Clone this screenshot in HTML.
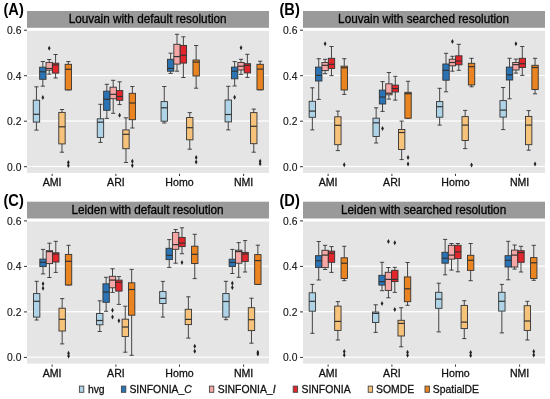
<!DOCTYPE html>
<html><head><meta charset="utf-8"><style>
html,body{margin:0;padding:0;background:#fff;}
svg{will-change:transform;}
svg{display:block;}
text{font-family:"Liberation Sans",sans-serif;fill:#111;stroke:#111;stroke-width:0.28px;}
.st{font-size:11.7px;text-anchor:middle;fill:#000;stroke:#000;}
.yl{font-size:10.3px;text-anchor:end;fill:#111;stroke-width:0.12px;}
.xl{font-size:10.4px;text-anchor:middle;}
.pl{font-size:15.4px;font-weight:bold;fill:#000;stroke:none;}
.lg{font-size:10.4px;}
.wk{stroke:#333333;stroke-width:0.9;fill:none;}
.bx{stroke:#333333;stroke-width:0.9;}
.md{stroke:#333333;stroke-width:1.2;}
</style></head><body>
<svg width="550" height="399" viewBox="0 0 550 399">
<rect width="550" height="399" fill="#fff"/>
<rect x="27" y="11" width="242" height="16.8" fill="#9a9a9a"/>
<text transform="translate(147.6,22.9) scale(1.005,1.07)" class="st">Louvain with default resolution</text>
<rect x="27" y="30.6" width="242" height="142.3" fill="#e5e5e5"/>
<rect x="27" y="165.9" width="242" height="1.2" fill="#ffffff"/>
<rect x="24" y="166.2" width="3" height="1" fill="#333"/>
<text x="21.4" y="170.7" class="yl">0.0</text>
<rect x="27" y="120.4" width="242" height="1.2" fill="#ffffff"/>
<rect x="24" y="120.7" width="3" height="1" fill="#333"/>
<text x="21.4" y="125.2" class="yl">0.2</text>
<rect x="27" y="74.9" width="242" height="1.2" fill="#ffffff"/>
<rect x="24" y="75.2" width="3" height="1" fill="#333"/>
<text x="21.4" y="79.7" class="yl">0.4</text>
<rect x="27" y="29.4" width="242" height="1.2" fill="#ffffff"/>
<rect x="24" y="29.7" width="3" height="1" fill="#333"/>
<text x="21.4" y="34.2" class="yl">0.6</text>
<rect x="51.6" y="173.8" width="1" height="2.2" fill="#333"/>
<text transform="translate(52.1,185.9) scale(1.02,1)" class="xl">AMI</text>
<rect x="115.4" y="173.8" width="1" height="2.2" fill="#333"/>
<text transform="translate(115.9,185.9) scale(1.02,1)" class="xl">ARI</text>
<rect x="179" y="173.8" width="1" height="2.2" fill="#333"/>
<text transform="translate(179.5,185.9) scale(1.02,1)" class="xl">Homo</text>
<rect x="243.1" y="173.8" width="1" height="2.2" fill="#333"/>
<text transform="translate(243.6,185.9) scale(1.02,1)" class="xl">NMI</text>
<text transform="translate(3.5,15) scale(0.95,1.02)" class="pl">(A)</text>
<path d="M36.45 86.8V100.2M36.45 122.1V130.1M34.35 86.8H38.55M34.35 130.1H38.55" class="wk"/>
<rect x="33.26" y="100.2" width="6.38" height="21.9" fill="#b0d4e7" class="bx"/>
<path d="M33.26 114.3H39.64" class="md"/>
<path d="M42.83 61.5V67.2M42.83 79.3V86.2M40.73 61.5H44.93M40.73 86.2H44.93" class="wk"/>
<rect x="39.64" y="67.2" width="6.38" height="12.1" fill="#2a74b5" class="bx"/>
<path d="M39.64 71.8H46.02" class="md"/>
<path d="M42.83 95.1L44.18 97.6L42.83 100.1L41.48 97.6Z" fill="#222"/>
<path d="M49.21 59.5V62.4M49.21 70.2V74.2M47.11 59.5H51.31M47.11 74.2H51.31" class="wk"/>
<rect x="46.02" y="62.4" width="6.38" height="7.8" fill="#f7a6a6" class="bx"/>
<path d="M46.02 68.5H52.4" class="md"/>
<path d="M49.21 45.7L50.56 48.2L49.21 50.7L47.86 48.2Z" fill="#222"/>
<path d="M55.59 54.5V63.2M55.59 73.1V78M53.49 54.5H57.69M53.49 78H57.69" class="wk"/>
<rect x="52.4" y="63.2" width="6.38" height="9.9" fill="#e3262b" class="bx"/>
<path d="M52.4 65H58.78" class="md"/>
<path d="M61.97 109.5V112.4M61.97 143.9V152.2M59.87 109.5H64.07M59.87 152.2H64.07" class="wk"/>
<rect x="58.78" y="112.4" width="6.38" height="31.5" fill="#f7c37b" class="bx"/>
<path d="M58.78 126.8H65.16" class="md"/>
<path d="M68.35 61.5V64.3M68.35 89.9V89.9M66.25 61.5H70.45M66.25 89.9H70.45" class="wk"/>
<rect x="65.16" y="64.3" width="6.38" height="25.6" fill="#ea8420" class="bx"/>
<path d="M65.16 69.3H71.54" class="md"/>
<path d="M68.35 160L69.7 162.5L68.35 165L67 162.5Z" fill="#222"/>
<path d="M68.35 163L69.7 165.5L68.35 168L67 165.5Z" fill="#222"/>
<path d="M100.45 104.3V118.8M100.45 137.4V142.4M98.35 104.3H102.55M98.35 142.4H102.55" class="wk"/>
<rect x="97.26" y="118.8" width="6.38" height="18.6" fill="#b0d4e7" class="bx"/>
<path d="M97.26 122.2H103.64" class="md"/>
<path d="M106.83 84.3V91.2M106.83 110.3V118.4M104.73 84.3H108.93M104.73 118.4H108.93" class="wk"/>
<rect x="103.64" y="91.2" width="6.38" height="19.1" fill="#2a74b5" class="bx"/>
<path d="M103.64 99.3H110.02" class="md"/>
<path d="M113.21 80.3V87.2M113.21 98.7V113.3M111.11 80.3H115.31M111.11 113.3H115.31" class="wk"/>
<rect x="110.02" y="87.2" width="6.38" height="11.5" fill="#f7a6a6" class="bx"/>
<path d="M110.02 94.3H116.4" class="md"/>
<path d="M119.59 81.8V90.6M119.59 100.3V104.6M117.49 81.8H121.69M117.49 104.6H121.69" class="wk"/>
<rect x="116.4" y="90.6" width="6.38" height="9.7" fill="#e3262b" class="bx"/>
<path d="M116.4 96.5H122.78" class="md"/>
<path d="M119.59 112.8L120.94 115.3L119.59 117.8L118.24 115.3Z" fill="#222"/>
<path d="M125.97 117.8V129.9M125.97 148.7V162.5M123.87 117.8H128.07M123.87 162.5H128.07" class="wk"/>
<rect x="122.78" y="129.9" width="6.38" height="18.8" fill="#f7c37b" class="bx"/>
<path d="M122.78 134.3H129.16" class="md"/>
<path d="M132.35 86.5V93.3M132.35 119.7V128M130.25 86.5H134.45M130.25 128H134.45" class="wk"/>
<rect x="129.16" y="93.3" width="6.38" height="26.4" fill="#ea8420" class="bx"/>
<path d="M129.16 103H135.54" class="md"/>
<path d="M132.35 158.7L133.7 161.2L132.35 163.7L131 161.2Z" fill="#222"/>
<path d="M132.35 163.1L133.7 165.6L132.35 168.1L131 165.6Z" fill="#222"/>
<path d="M164.25 86.5V101.6M164.25 121.2V123M162.15 86.5H166.35M162.15 123H166.35" class="wk"/>
<rect x="161.06" y="101.6" width="6.38" height="19.6" fill="#b0d4e7" class="bx"/>
<path d="M161.06 107.8H167.44" class="md"/>
<path d="M170.63 53.2V59.3M170.63 71.2V73.4M168.53 53.2H172.73M168.53 73.4H172.73" class="wk"/>
<rect x="167.44" y="59.3" width="6.38" height="11.9" fill="#2a74b5" class="bx"/>
<path d="M167.44 68.4H173.82" class="md"/>
<path d="M177.01 34.3V44.3M177.01 64.1V71.2M174.91 34.3H179.11M174.91 71.2H179.11" class="wk"/>
<rect x="173.82" y="44.3" width="6.38" height="19.8" fill="#f7a6a6" class="bx"/>
<path d="M173.82 56.6H180.2" class="md"/>
<path d="M183.39 36.8V45.5M183.39 63.1V77.5M181.29 36.8H185.49M181.29 77.5H185.49" class="wk"/>
<rect x="180.2" y="45.5" width="6.38" height="17.6" fill="#e3262b" class="bx"/>
<path d="M180.2 55.3H186.58" class="md"/>
<path d="M189.77 112.6V117.5M189.77 139.8V149.2M187.67 112.6H191.87M187.67 149.2H191.87" class="wk"/>
<rect x="186.58" y="117.5" width="6.38" height="22.3" fill="#f7c37b" class="bx"/>
<path d="M186.58 127.7H192.96" class="md"/>
<path d="M196.15 45.5V60M196.15 76V88.2M194.05 45.5H198.25M194.05 88.2H198.25" class="wk"/>
<rect x="192.96" y="60" width="6.38" height="16" fill="#ea8420" class="bx"/>
<path d="M192.96 62.1H199.34" class="md"/>
<path d="M196.15 155L197.5 157.5L196.15 160L194.8 157.5Z" fill="#222"/>
<path d="M196.15 159.5L197.5 162L196.15 164.5L194.8 162Z" fill="#222"/>
<path d="M228.25 86.3V100M228.25 121.9V129.9M226.15 86.3H230.35M226.15 129.9H230.35" class="wk"/>
<rect x="225.06" y="100" width="6.38" height="21.9" fill="#b0d4e7" class="bx"/>
<path d="M225.06 114.5H231.44" class="md"/>
<path d="M234.63 61.6V67.1M234.63 78.8V86M232.53 61.6H236.73M232.53 86H236.73" class="wk"/>
<rect x="231.44" y="67.1" width="6.38" height="11.7" fill="#2a74b5" class="bx"/>
<path d="M231.44 71.2H237.82" class="md"/>
<path d="M234.63 94.8L235.98 97.3L234.63 99.8L233.28 97.3Z" fill="#222"/>
<path d="M241.01 59.3V62.5M241.01 70V74.4M238.91 59.3H243.11M238.91 74.4H243.11" class="wk"/>
<rect x="237.82" y="62.5" width="6.38" height="7.5" fill="#f7a6a6" class="bx"/>
<path d="M237.82 66.2H244.2" class="md"/>
<path d="M241.01 45.3L242.36 47.8L241.01 50.3L239.66 47.8Z" fill="#222"/>
<path d="M247.39 54.3V63.7M247.39 72.9V77.4M245.29 54.3H249.49M245.29 77.4H249.49" class="wk"/>
<rect x="244.2" y="63.7" width="6.38" height="9.2" fill="#e3262b" class="bx"/>
<path d="M244.2 65.3H250.58" class="md"/>
<path d="M253.77 109.1V112.6M253.77 143.7V152.2M251.67 109.1H255.87M251.67 152.2H255.87" class="wk"/>
<rect x="250.58" y="112.6" width="6.38" height="31.1" fill="#f7c37b" class="bx"/>
<path d="M250.58 126.3H256.96" class="md"/>
<path d="M260.15 61.2V64.3M260.15 89.8V89.8M258.05 61.2H262.25M258.05 89.8H262.25" class="wk"/>
<rect x="256.96" y="64.3" width="6.38" height="25.5" fill="#ea8420" class="bx"/>
<path d="M256.96 69.1H263.34" class="md"/>
<path d="M260.15 158.7L261.5 161.2L260.15 163.7L258.8 161.2Z" fill="#222"/>
<path d="M260.15 161.3L261.5 163.8L260.15 166.3L258.8 163.8Z" fill="#222"/>
<rect x="303" y="11" width="242" height="16.8" fill="#9a9a9a"/>
<text transform="translate(423.6,22.9) scale(1.005,1.07)" class="st">Louvain with searched resolution</text>
<rect x="303" y="30.6" width="242" height="142.3" fill="#e5e5e5"/>
<rect x="303" y="165.9" width="242" height="1.2" fill="#ffffff"/>
<rect x="300" y="166.2" width="3" height="1" fill="#333"/>
<text x="297.4" y="170.7" class="yl">0.0</text>
<rect x="303" y="120.4" width="242" height="1.2" fill="#ffffff"/>
<rect x="300" y="120.7" width="3" height="1" fill="#333"/>
<text x="297.4" y="125.2" class="yl">0.2</text>
<rect x="303" y="74.9" width="242" height="1.2" fill="#ffffff"/>
<rect x="300" y="75.2" width="3" height="1" fill="#333"/>
<text x="297.4" y="79.7" class="yl">0.4</text>
<rect x="303" y="29.4" width="242" height="1.2" fill="#ffffff"/>
<rect x="300" y="29.7" width="3" height="1" fill="#333"/>
<text x="297.4" y="34.2" class="yl">0.6</text>
<rect x="327.6" y="173.8" width="1" height="2.2" fill="#333"/>
<text transform="translate(328.1,185.9) scale(1.02,1)" class="xl">AMI</text>
<rect x="391.4" y="173.8" width="1" height="2.2" fill="#333"/>
<text transform="translate(391.9,185.9) scale(1.02,1)" class="xl">ARI</text>
<rect x="455" y="173.8" width="1" height="2.2" fill="#333"/>
<text transform="translate(455.5,185.9) scale(1.02,1)" class="xl">Homo</text>
<rect x="519.1" y="173.8" width="1" height="2.2" fill="#333"/>
<text transform="translate(519.6,185.9) scale(1.02,1)" class="xl">NMI</text>
<text transform="translate(279.5,15) scale(0.95,1.02)" class="pl">(B)</text>
<path d="M312.35 87.8V101.3M312.35 117.3V129.9M310.25 87.8H314.45M310.25 129.9H314.45" class="wk"/>
<rect x="309.16" y="101.3" width="6.38" height="16" fill="#b0d4e7" class="bx"/>
<path d="M309.16 111.1H315.54" class="md"/>
<path d="M318.73 58.7V67.1M318.73 81V99.4M316.63 58.7H320.83M316.63 99.4H320.83" class="wk"/>
<rect x="315.54" y="67.1" width="6.38" height="13.9" fill="#2a74b5" class="bx"/>
<path d="M315.54 75.4H321.92" class="md"/>
<path d="M325.11 59.3V62.5M325.11 70.6V73.7M323.01 59.3H327.21M323.01 73.7H327.21" class="wk"/>
<rect x="321.92" y="62.5" width="6.38" height="8.1" fill="#f7a6a6" class="bx"/>
<path d="M321.92 65.3H328.3" class="md"/>
<path d="M325.11 41.2L326.46 43.7L325.11 46.2L323.76 43.7Z" fill="#222"/>
<path d="M331.49 46.5V58.3M331.49 68.4V75.6M329.39 46.5H333.59M329.39 75.6H333.59" class="wk"/>
<rect x="328.3" y="58.3" width="6.38" height="10.1" fill="#e3262b" class="bx"/>
<path d="M328.3 64.3H334.68" class="md"/>
<path d="M337.87 111.1V116.8M337.87 144.7V150.6M335.77 111.1H339.97M335.77 150.6H339.97" class="wk"/>
<rect x="334.68" y="116.8" width="6.38" height="27.9" fill="#f7c37b" class="bx"/>
<path d="M334.68 125.3H341.06" class="md"/>
<path d="M344.25 58.7V66.2M344.25 90V94.4M342.15 58.7H346.35M342.15 94.4H346.35" class="wk"/>
<rect x="341.06" y="66.2" width="6.38" height="23.8" fill="#ea8420" class="bx"/>
<path d="M341.06 67.8H347.44" class="md"/>
<path d="M344.25 162.2L345.6 164.7L344.25 167.2L342.9 164.7Z" fill="#222"/>
<path d="M376.15 107.8V118.2M376.15 136.5V143M374.05 107.8H378.25M374.05 143H378.25" class="wk"/>
<rect x="372.96" y="118.2" width="6.38" height="18.3" fill="#b0d4e7" class="bx"/>
<path d="M372.96 122.8H379.34" class="md"/>
<path d="M382.53 81.6V90.1M382.53 104V111.4M380.43 81.6H384.63M380.43 111.4H384.63" class="wk"/>
<rect x="379.34" y="90.1" width="6.38" height="13.9" fill="#2a74b5" class="bx"/>
<path d="M379.34 97H385.72" class="md"/>
<path d="M382.53 125.9L383.88 128.4L382.53 130.9L381.18 128.4Z" fill="#222"/>
<path d="M388.91 72.5V83.8M388.91 94.8V99.1M386.81 72.5H391.01M386.81 99.1H391.01" class="wk"/>
<rect x="385.72" y="83.8" width="6.38" height="11" fill="#f7a6a6" class="bx"/>
<path d="M385.72 93.2H392.1" class="md"/>
<path d="M395.29 76.3V85.1M395.29 92V100.1M393.19 76.3H397.39M393.19 100.1H397.39" class="wk"/>
<rect x="392.1" y="85.1" width="6.38" height="6.9" fill="#e3262b" class="bx"/>
<path d="M392.1 88.6H398.48" class="md"/>
<path d="M401.67 121.1V129.5M401.67 149.5V159.6M399.57 121.1H403.77M399.57 159.6H403.77" class="wk"/>
<rect x="398.48" y="129.5" width="6.38" height="20" fill="#f7c37b" class="bx"/>
<path d="M398.48 132.5H404.86" class="md"/>
<path d="M408.05 81.3V92.3M408.05 118.2V118.2M405.95 81.3H410.15M405.95 118.2H410.15" class="wk"/>
<rect x="404.86" y="92.3" width="6.38" height="25.9" fill="#ea8420" class="bx"/>
<path d="M404.86 93.7H411.24" class="md"/>
<path d="M408.05 155L409.4 157.5L408.05 160L406.7 157.5Z" fill="#222"/>
<path d="M408.05 161.5L409.4 164L408.05 166.5L406.7 164Z" fill="#222"/>
<path d="M439.65 88.3V101.6M439.65 117.2V125.1M437.55 88.3H441.75M437.55 125.1H441.75" class="wk"/>
<rect x="436.46" y="101.6" width="6.38" height="15.6" fill="#b0d4e7" class="bx"/>
<path d="M436.46 106.7H442.84" class="md"/>
<path d="M446.03 53.3V64M446.03 80.2V91.8M443.93 53.3H448.13M443.93 91.8H448.13" class="wk"/>
<rect x="442.84" y="64" width="6.38" height="16.2" fill="#2a74b5" class="bx"/>
<path d="M442.84 70.3H449.22" class="md"/>
<path d="M452.41 56.3V59.2M452.41 65.8V71.2M450.31 56.3H454.51M450.31 71.2H454.51" class="wk"/>
<rect x="449.22" y="59.2" width="6.38" height="6.6" fill="#f7a6a6" class="bx"/>
<path d="M449.22 62.5H455.6" class="md"/>
<path d="M452.41 39L453.76 41.5L452.41 44L451.06 41.5Z" fill="#222"/>
<path d="M458.79 44.3V55.8M458.79 64.8V70.3M456.69 44.3H460.89M456.69 70.3H460.89" class="wk"/>
<rect x="455.6" y="55.8" width="6.38" height="9" fill="#e3262b" class="bx"/>
<path d="M455.6 61H461.98" class="md"/>
<path d="M465.17 110.4V116.6M465.17 140.5V148.6M463.07 110.4H467.27M463.07 148.6H467.27" class="wk"/>
<rect x="461.98" y="116.6" width="6.38" height="23.9" fill="#f7c37b" class="bx"/>
<path d="M461.98 125.1H468.36" class="md"/>
<path d="M471.55 58.3V63.3M471.55 85V86.8M469.45 58.3H473.65M469.45 86.8H473.65" class="wk"/>
<rect x="468.36" y="63.3" width="6.38" height="21.7" fill="#ea8420" class="bx"/>
<path d="M468.36 66.7H474.74" class="md"/>
<path d="M471.55 162.4L472.9 164.9L471.55 167.4L470.2 164.9Z" fill="#222"/>
<path d="M503.15 87.5V100.6M503.15 117.1V129.6M501.05 87.5H505.25M501.05 129.6H505.25" class="wk"/>
<rect x="499.96" y="100.6" width="6.38" height="16.5" fill="#b0d4e7" class="bx"/>
<path d="M499.96 110.1H506.34" class="md"/>
<path d="M509.53 58.3V67.1M509.53 80V98.8M507.43 58.3H511.63M507.43 98.8H511.63" class="wk"/>
<rect x="506.34" y="67.1" width="6.38" height="12.9" fill="#2a74b5" class="bx"/>
<path d="M506.34 74.8H512.72" class="md"/>
<path d="M515.91 59.1V62.5M515.91 70V73.1M513.81 59.1H518.01M513.81 73.1H518.01" class="wk"/>
<rect x="512.72" y="62.5" width="6.38" height="7.5" fill="#f7a6a6" class="bx"/>
<path d="M512.72 64.6H519.1" class="md"/>
<path d="M515.91 41.2L517.26 43.7L515.91 46.2L514.56 43.7Z" fill="#222"/>
<path d="M522.29 46.5V58.3M522.29 67.5V75.4M520.19 46.5H524.39M520.19 75.4H524.39" class="wk"/>
<rect x="519.1" y="58.3" width="6.38" height="9.2" fill="#e3262b" class="bx"/>
<path d="M519.1 63.7H525.48" class="md"/>
<path d="M528.67 110.6V116.4M528.67 144.7V150.2M526.57 110.6H530.77M526.57 150.2H530.77" class="wk"/>
<rect x="525.48" y="116.4" width="6.38" height="28.3" fill="#f7c37b" class="bx"/>
<path d="M525.48 125.1H531.86" class="md"/>
<path d="M535.05 58.3V65.3M535.05 89.5V93.8M532.95 58.3H537.15M532.95 93.8H537.15" class="wk"/>
<rect x="531.86" y="65.3" width="6.38" height="24.2" fill="#ea8420" class="bx"/>
<path d="M531.86 67.5H538.24" class="md"/>
<path d="M535.05 161.5L536.4 164L535.05 166.5L533.7 164Z" fill="#222"/>
<rect x="27" y="201.7" width="242" height="16.8" fill="#9a9a9a"/>
<text transform="translate(147.6,213.6) scale(1.005,1.07)" class="st">Leiden with default resolution</text>
<rect x="27" y="221.3" width="242" height="142.3" fill="#e5e5e5"/>
<rect x="27" y="356.6" width="242" height="1.2" fill="#ffffff"/>
<rect x="24" y="356.9" width="3" height="1" fill="#333"/>
<text x="21.4" y="361.4" class="yl">0.0</text>
<rect x="27" y="311.1" width="242" height="1.2" fill="#ffffff"/>
<rect x="24" y="311.4" width="3" height="1" fill="#333"/>
<text x="21.4" y="315.9" class="yl">0.2</text>
<rect x="27" y="265.6" width="242" height="1.2" fill="#ffffff"/>
<rect x="24" y="265.9" width="3" height="1" fill="#333"/>
<text x="21.4" y="270.4" class="yl">0.4</text>
<rect x="27" y="220.1" width="242" height="1.2" fill="#ffffff"/>
<rect x="24" y="220.4" width="3" height="1" fill="#333"/>
<text x="21.4" y="224.9" class="yl">0.6</text>
<rect x="51.6" y="364.5" width="1" height="2.2" fill="#333"/>
<text transform="translate(52.1,376.6) scale(1.02,1)" class="xl">AMI</text>
<rect x="115.4" y="364.5" width="1" height="2.2" fill="#333"/>
<text transform="translate(115.9,376.6) scale(1.02,1)" class="xl">ARI</text>
<rect x="179" y="364.5" width="1" height="2.2" fill="#333"/>
<text transform="translate(179.5,376.6) scale(1.02,1)" class="xl">Homo</text>
<rect x="243.1" y="364.5" width="1" height="2.2" fill="#333"/>
<text transform="translate(243.6,376.6) scale(1.02,1)" class="xl">NMI</text>
<text transform="translate(3.5,205.7) scale(0.95,1.02)" class="pl">(C)</text>
<path d="M36.65 281.3V293.6M36.65 317.1V320M34.55 281.3H38.75M34.55 320H38.75" class="wk"/>
<rect x="33.46" y="293.6" width="6.38" height="23.5" fill="#b0d4e7" class="bx"/>
<path d="M33.46 301.3H39.84" class="md"/>
<path d="M43.03 249.4V259.1M43.03 266.6V273.9M40.93 249.4H45.13M40.93 273.9H45.13" class="wk"/>
<rect x="39.84" y="259.1" width="6.38" height="7.5" fill="#2a74b5" class="bx"/>
<path d="M39.84 262.3H46.22" class="md"/>
<path d="M43.03 281.3L44.38 283.8L43.03 286.3L41.68 283.8Z" fill="#222"/>
<path d="M43.03 285.7L44.38 288.2L43.03 290.7L41.68 288.2Z" fill="#222"/>
<path d="M49.41 243.2V250.7M49.41 263.6V277.5M47.31 243.2H51.51M47.31 277.5H51.51" class="wk"/>
<rect x="46.22" y="250.7" width="6.38" height="12.9" fill="#f7a6a6" class="bx"/>
<path d="M46.22 251.6H52.6" class="md"/>
<path d="M55.79 241.3V252.8M55.79 262V272.4M53.69 241.3H57.89M53.69 272.4H57.89" class="wk"/>
<rect x="52.6" y="252.8" width="6.38" height="9.2" fill="#e3262b" class="bx"/>
<path d="M52.6 254H58.98" class="md"/>
<path d="M62.17 298.6V308.2M62.17 331V343.9M60.07 298.6H64.27M60.07 343.9H64.27" class="wk"/>
<rect x="58.98" y="308.2" width="6.38" height="22.8" fill="#f7c37b" class="bx"/>
<path d="M58.98 319.3H65.36" class="md"/>
<path d="M68.55 245.3V254.4M68.55 285V285M66.45 245.3H70.65M66.45 285H70.65" class="wk"/>
<rect x="65.36" y="254.4" width="6.38" height="30.6" fill="#ea8420" class="bx"/>
<path d="M65.36 261.3H71.74" class="md"/>
<path d="M68.55 350.8L69.9 353.3L68.55 355.8L67.2 353.3Z" fill="#222"/>
<path d="M68.55 353.6L69.9 356.1L68.55 358.6L67.2 356.1Z" fill="#222"/>
<path d="M99.75 300.8V313.5M99.75 324.8V331.5M97.65 300.8H101.85M97.65 331.5H101.85" class="wk"/>
<rect x="96.56" y="313.5" width="6.38" height="11.3" fill="#b0d4e7" class="bx"/>
<path d="M96.56 320.5H102.94" class="md"/>
<path d="M106.13 277.3V283.8M106.13 302.3V311.3M104.03 277.3H108.23M104.03 311.3H108.23" class="wk"/>
<rect x="102.94" y="283.8" width="6.38" height="18.5" fill="#2a74b5" class="bx"/>
<path d="M102.94 292H109.32" class="md"/>
<path d="M112.51 268.8V276.3M112.51 287.8V292.4M110.41 268.8H114.61M110.41 292.4H114.61" class="wk"/>
<rect x="109.32" y="276.3" width="6.38" height="11.5" fill="#f7a6a6" class="bx"/>
<path d="M109.32 280.1H115.7" class="md"/>
<path d="M112.51 307.7L113.86 310.2L112.51 312.7L111.16 310.2Z" fill="#222"/>
<path d="M112.51 314.5L113.86 317L112.51 319.5L111.16 317Z" fill="#222"/>
<path d="M118.89 276.6V280.1M118.89 291.1V304.4M116.79 276.6H120.99M116.79 304.4H120.99" class="wk"/>
<rect x="115.7" y="280.1" width="6.38" height="11" fill="#e3262b" class="bx"/>
<path d="M115.7 282.3H122.08" class="md"/>
<path d="M118.89 318.2L120.24 320.7L118.89 323.2L117.54 320.7Z" fill="#222"/>
<path d="M125.27 306.2V319.2M125.27 336.5V352.2M123.17 306.2H127.37M123.17 352.2H127.37" class="wk"/>
<rect x="122.08" y="319.2" width="6.38" height="17.3" fill="#f7c37b" class="bx"/>
<path d="M122.08 327H128.46" class="md"/>
<path d="M131.65 269.4V282.8M131.65 315.2V355.3M129.55 269.4H133.75M129.55 355.3H133.75" class="wk"/>
<rect x="128.46" y="282.8" width="6.38" height="32.4" fill="#ea8420" class="bx"/>
<path d="M128.46 289.5H134.84" class="md"/>
<path d="M162.85 281.4V291.6M162.85 303.5V317.1M160.75 281.4H164.95M160.75 317.1H164.95" class="wk"/>
<rect x="159.66" y="291.6" width="6.38" height="11.9" fill="#b0d4e7" class="bx"/>
<path d="M159.66 298.4H166.04" class="md"/>
<path d="M169.23 239.6V248.3M169.23 259.6V267.4M167.13 239.6H171.33M167.13 267.4H171.33" class="wk"/>
<rect x="166.04" y="248.3" width="6.38" height="11.3" fill="#2a74b5" class="bx"/>
<path d="M166.04 255.3H172.42" class="md"/>
<path d="M175.61 229.5V232.4M175.61 249.3V263.2M173.51 229.5H177.71M173.51 263.2H177.71" class="wk"/>
<rect x="172.42" y="232.4" width="6.38" height="16.9" fill="#f7a6a6" class="bx"/>
<path d="M172.42 244.6H178.8" class="md"/>
<path d="M181.99 227.8V237.4M181.99 246.6V253.7M179.89 227.8H184.09M179.89 253.7H184.09" class="wk"/>
<rect x="178.8" y="237.4" width="6.38" height="9.2" fill="#e3262b" class="bx"/>
<path d="M178.8 243.1H185.18" class="md"/>
<path d="M181.99 260L183.34 262.5L181.99 265L180.64 262.5Z" fill="#222"/>
<path d="M188.37 296.8V309.3M188.37 324.6V338.1M186.27 296.8H190.47M186.27 338.1H190.47" class="wk"/>
<rect x="185.18" y="309.3" width="6.38" height="15.3" fill="#f7c37b" class="bx"/>
<path d="M185.18 319.4H191.56" class="md"/>
<path d="M194.75 234.3V246.2M194.75 263.5V278.6M192.65 234.3H196.85M192.65 278.6H196.85" class="wk"/>
<rect x="191.56" y="246.2" width="6.38" height="17.3" fill="#ea8420" class="bx"/>
<path d="M191.56 254.3H197.94" class="md"/>
<path d="M194.75 343.8L196.1 346.3L194.75 348.8L193.4 346.3Z" fill="#222"/>
<path d="M194.75 348.8L196.1 351.3L194.75 353.8L193.4 351.3Z" fill="#222"/>
<path d="M225.95 281.3V293.6M225.95 317.1V319.7M223.85 281.3H228.05M223.85 319.7H228.05" class="wk"/>
<rect x="222.76" y="293.6" width="6.38" height="23.5" fill="#b0d4e7" class="bx"/>
<path d="M222.76 301.5H229.14" class="md"/>
<path d="M232.33 249.4V259.2M232.33 266.5V273.5M230.23 249.4H234.43M230.23 273.5H234.43" class="wk"/>
<rect x="229.14" y="259.2" width="6.38" height="7.3" fill="#2a74b5" class="bx"/>
<path d="M229.14 262.4H235.52" class="md"/>
<path d="M232.33 280.7L233.68 283.2L232.33 285.7L230.98 283.2Z" fill="#222"/>
<path d="M232.33 285.1L233.68 287.6L232.33 290.1L230.98 287.6Z" fill="#222"/>
<path d="M238.71 242.6V250.2M238.71 263.2V277.3M236.61 242.6H240.81M236.61 277.3H240.81" class="wk"/>
<rect x="235.52" y="250.2" width="6.38" height="13" fill="#f7a6a6" class="bx"/>
<path d="M235.52 251.6H241.9" class="md"/>
<path d="M245.09 240.6V252.4M245.09 261.4V272M242.99 240.6H247.19M242.99 272H247.19" class="wk"/>
<rect x="241.9" y="252.4" width="6.38" height="9" fill="#e3262b" class="bx"/>
<path d="M241.9 254H248.28" class="md"/>
<path d="M251.47 298.2V307.7M251.47 330.6V343.2M249.37 298.2H253.57M249.37 343.2H253.57" class="wk"/>
<rect x="248.28" y="307.7" width="6.38" height="22.9" fill="#f7c37b" class="bx"/>
<path d="M248.28 319.7H254.66" class="md"/>
<path d="M257.85 245.2V254.6M257.85 284.4V284.4M255.75 245.2H259.95M255.75 284.4H259.95" class="wk"/>
<rect x="254.66" y="254.6" width="6.38" height="29.8" fill="#ea8420" class="bx"/>
<path d="M254.66 260.6H261.04" class="md"/>
<path d="M257.85 349.7L259.2 352.2L257.85 354.7L256.5 352.2Z" fill="#222"/>
<path d="M257.85 351.5L259.2 354L257.85 356.5L256.5 354Z" fill="#222"/>
<rect x="303" y="201.7" width="242" height="16.8" fill="#9a9a9a"/>
<text transform="translate(423.6,213.6) scale(1.005,1.07)" class="st">Leiden with searched resolution</text>
<rect x="303" y="221.3" width="242" height="142.3" fill="#e5e5e5"/>
<rect x="303" y="356.6" width="242" height="1.2" fill="#ffffff"/>
<rect x="300" y="356.9" width="3" height="1" fill="#333"/>
<text x="297.4" y="361.4" class="yl">0.0</text>
<rect x="303" y="311.1" width="242" height="1.2" fill="#ffffff"/>
<rect x="300" y="311.4" width="3" height="1" fill="#333"/>
<text x="297.4" y="315.9" class="yl">0.2</text>
<rect x="303" y="265.6" width="242" height="1.2" fill="#ffffff"/>
<rect x="300" y="265.9" width="3" height="1" fill="#333"/>
<text x="297.4" y="270.4" class="yl">0.4</text>
<rect x="303" y="220.1" width="242" height="1.2" fill="#ffffff"/>
<rect x="300" y="220.4" width="3" height="1" fill="#333"/>
<text x="297.4" y="224.9" class="yl">0.6</text>
<rect x="327.6" y="364.5" width="1" height="2.2" fill="#333"/>
<text transform="translate(328.1,376.6) scale(1.02,1)" class="xl">AMI</text>
<rect x="391.4" y="364.5" width="1" height="2.2" fill="#333"/>
<text transform="translate(391.9,376.6) scale(1.02,1)" class="xl">ARI</text>
<rect x="455" y="364.5" width="1" height="2.2" fill="#333"/>
<text transform="translate(455.5,376.6) scale(1.02,1)" class="xl">Homo</text>
<rect x="519.1" y="364.5" width="1" height="2.2" fill="#333"/>
<text transform="translate(519.6,376.6) scale(1.02,1)" class="xl">NMI</text>
<text transform="translate(279.5,205.7) scale(0.95,1.02)" class="pl">(D)</text>
<path d="M312.35 284.4V292.8M312.35 311.2V333.3M310.25 284.4H314.45M310.25 333.3H314.45" class="wk"/>
<rect x="309.16" y="292.8" width="6.38" height="18.4" fill="#b0d4e7" class="bx"/>
<path d="M309.16 301.3H315.54" class="md"/>
<path d="M318.73 241.5V255.7M318.73 267.4V280M316.63 241.5H320.83M316.63 280H320.83" class="wk"/>
<rect x="315.54" y="255.7" width="6.38" height="11.7" fill="#2a74b5" class="bx"/>
<path d="M315.54 260.7H321.92" class="md"/>
<path d="M325.11 245.3V250.3M325.11 267.6V269.5M323.01 245.3H327.21M323.01 269.5H327.21" class="wk"/>
<rect x="321.92" y="250.3" width="6.38" height="17.3" fill="#f7a6a6" class="bx"/>
<path d="M321.92 255.1H328.3" class="md"/>
<path d="M331.49 246.6V251.1M331.49 262.3V272.4M329.39 246.6H333.59M329.39 272.4H333.59" class="wk"/>
<rect x="328.3" y="251.1" width="6.38" height="11.2" fill="#e3262b" class="bx"/>
<path d="M328.3 253.2H334.68" class="md"/>
<path d="M337.87 301.6V306.1M337.87 330.4V340M335.77 301.6H339.97M335.77 340H339.97" class="wk"/>
<rect x="334.68" y="306.1" width="6.38" height="24.3" fill="#f7c37b" class="bx"/>
<path d="M334.68 321.4H341.06" class="md"/>
<path d="M344.25 246.3V257.8M344.25 278.5V280.7M342.15 246.3H346.35M342.15 280.7H346.35" class="wk"/>
<rect x="341.06" y="257.8" width="6.38" height="20.7" fill="#ea8420" class="bx"/>
<path d="M341.06 263.2H347.44" class="md"/>
<path d="M344.25 348.9L345.6 351.4L344.25 353.9L342.9 351.4Z" fill="#222"/>
<path d="M344.25 352.5L345.6 355L344.25 357.5L342.9 355Z" fill="#222"/>
<path d="M375.65 304.8V312M375.65 322.5V332.4M373.55 304.8H377.75M373.55 332.4H377.75" class="wk"/>
<rect x="372.46" y="312" width="6.38" height="10.5" fill="#b0d4e7" class="bx"/>
<path d="M372.46 313.4H378.84" class="md"/>
<path d="M382.03 262.3V275.3M382.03 285.1V290.7M379.93 262.3H384.13M379.93 290.7H384.13" class="wk"/>
<rect x="378.84" y="275.3" width="6.38" height="9.8" fill="#2a74b5" class="bx"/>
<path d="M378.84 281.6H385.22" class="md"/>
<path d="M382.03 301L383.38 303.5L382.03 306L380.68 303.5Z" fill="#222"/>
<path d="M388.41 267.5V272.3M388.41 290.4V297.8M386.31 267.5H390.51M386.31 297.8H390.51" class="wk"/>
<rect x="385.22" y="272.3" width="6.38" height="18.1" fill="#f7a6a6" class="bx"/>
<path d="M385.22 279.4H391.6" class="md"/>
<path d="M388.41 239L389.76 241.5L388.41 244L387.06 241.5Z" fill="#222"/>
<path d="M394.79 267.3V270.3M394.79 281.6V292.4M392.69 267.3H396.89M392.69 292.4H396.89" class="wk"/>
<rect x="391.6" y="270.3" width="6.38" height="11.3" fill="#e3262b" class="bx"/>
<path d="M391.6 279.4H397.98" class="md"/>
<path d="M394.79 240.3L396.14 242.8L394.79 245.3L393.44 242.8Z" fill="#222"/>
<path d="M394.79 307L396.14 309.5L394.79 312L393.44 309.5Z" fill="#222"/>
<path d="M401.17 307.7V320.3M401.17 336V346.8M399.07 307.7H403.27M399.07 346.8H403.27" class="wk"/>
<rect x="397.98" y="320.3" width="6.38" height="15.7" fill="#f7c37b" class="bx"/>
<path d="M397.98 323.4H404.36" class="md"/>
<path d="M407.55 262.5V276.9M407.55 301.7V305.3M405.45 262.5H409.65M405.45 305.3H409.65" class="wk"/>
<rect x="404.36" y="276.9" width="6.38" height="24.8" fill="#ea8420" class="bx"/>
<path d="M404.36 288.8H410.74" class="md"/>
<path d="M407.55 349.7L408.9 352.2L407.55 354.7L406.2 352.2Z" fill="#222"/>
<path d="M407.55 352.8L408.9 355.3L407.55 357.8L406.2 355.3Z" fill="#222"/>
<path d="M438.75 283.2V292.3M438.75 308.3V331.9M436.65 283.2H440.85M436.65 331.9H440.85" class="wk"/>
<rect x="435.56" y="292.3" width="6.38" height="16" fill="#b0d4e7" class="bx"/>
<path d="M435.56 299.1H441.94" class="md"/>
<path d="M445.13 239.4V252.3M445.13 263.2V274.8M443.03 239.4H447.23M443.03 274.8H447.23" class="wk"/>
<rect x="441.94" y="252.3" width="6.38" height="10.9" fill="#2a74b5" class="bx"/>
<path d="M441.94 258.2H448.32" class="md"/>
<path d="M451.51 243.5V245.3M451.51 259.1V270.1M449.41 243.5H453.61M449.41 270.1H453.61" class="wk"/>
<rect x="448.32" y="245.3" width="6.38" height="13.8" fill="#f7a6a6" class="bx"/>
<path d="M448.32 255.1H454.7" class="md"/>
<path d="M457.89 243.5V245.3M457.89 258.6V271.8M455.79 243.5H459.99M455.79 271.8H459.99" class="wk"/>
<rect x="454.7" y="245.3" width="6.38" height="13.3" fill="#e3262b" class="bx"/>
<path d="M454.7 251.9H461.08" class="md"/>
<path d="M464.27 300.7V305.4M464.27 328.6V338.6M462.17 300.7H466.37M462.17 338.6H466.37" class="wk"/>
<rect x="461.08" y="305.4" width="6.38" height="23.2" fill="#f7c37b" class="bx"/>
<path d="M461.08 322.1H467.46" class="md"/>
<path d="M470.65 243.5V255.3M470.65 270.4V280.7M468.55 243.5H472.75M468.55 280.7H472.75" class="wk"/>
<rect x="467.46" y="255.3" width="6.38" height="15.1" fill="#ea8420" class="bx"/>
<path d="M467.46 260.3H473.84" class="md"/>
<path d="M470.65 350L472 352.5L470.65 355L469.3 352.5Z" fill="#222"/>
<path d="M470.65 353L472 355.5L470.65 358L469.3 355.5Z" fill="#222"/>
<path d="M501.85 284.4V292.3M501.85 311.1V332.9M499.75 284.4H503.95M499.75 332.9H503.95" class="wk"/>
<rect x="498.66" y="292.3" width="6.38" height="18.8" fill="#b0d4e7" class="bx"/>
<path d="M498.66 301.3H505.04" class="md"/>
<path d="M508.23 241.3V255.7M508.23 267V279.8M506.13 241.3H510.33M506.13 279.8H510.33" class="wk"/>
<rect x="505.04" y="255.7" width="6.38" height="11.3" fill="#2a74b5" class="bx"/>
<path d="M505.04 260.3H511.42" class="md"/>
<path d="M514.61 245V250.1M514.61 267V269.1M512.51 245H516.71M512.51 269.1H516.71" class="wk"/>
<rect x="511.42" y="250.1" width="6.38" height="16.9" fill="#f7a6a6" class="bx"/>
<path d="M511.42 255.1H517.8" class="md"/>
<path d="M520.99 246.3V250.7M520.99 262.3V272M518.89 246.3H523.09M518.89 272H523.09" class="wk"/>
<rect x="517.8" y="250.7" width="6.38" height="11.6" fill="#e3262b" class="bx"/>
<path d="M517.8 252.6H524.18" class="md"/>
<path d="M527.37 301.3V305.7M527.37 330.4V340M525.27 301.3H529.47M525.27 340H529.47" class="wk"/>
<rect x="524.18" y="305.7" width="6.38" height="24.7" fill="#f7c37b" class="bx"/>
<path d="M524.18 321H530.56" class="md"/>
<path d="M533.75 245.3V257.6M533.75 278.5V280.3M531.65 245.3H535.85M531.65 280.3H535.85" class="wk"/>
<rect x="530.56" y="257.6" width="6.38" height="20.9" fill="#ea8420" class="bx"/>
<path d="M530.56 262.8H536.94" class="md"/>
<path d="M533.75 348.9L535.1 351.4L533.75 353.9L532.4 351.4Z" fill="#222"/>
<path d="M533.75 352.5L535.1 355L533.75 357.5L532.4 355Z" fill="#222"/>
<rect x="79.4" y="386.1" width="4.4" height="6.2" fill="#b0d4e7" stroke="#444" stroke-width="0.9"/>
<text x="87.9" y="392.6" class="lg">hvg</text>
<rect x="121.4" y="386.1" width="4.4" height="6.2" fill="#2a74b5" stroke="#444" stroke-width="0.9"/>
<text x="129.4" y="392.6" class="lg">SINFONIA_<tspan font-style="italic">C</tspan></text>
<rect x="209.4" y="386.1" width="4.4" height="6.2" fill="#f7a6a6" stroke="#444" stroke-width="0.9"/>
<text x="217.8" y="392.6" class="lg">SINFONIA_<tspan font-style="italic">I</tspan></text>
<rect x="293.2" y="386.1" width="4.4" height="6.2" fill="#e3262b" stroke="#444" stroke-width="0.9"/>
<text x="301.5" y="392.6" class="lg">SINFONIA</text>
<rect x="368.2" y="386.1" width="4.4" height="6.2" fill="#f7c37b" stroke="#444" stroke-width="0.9"/>
<text x="376.1" y="392.6" class="lg">SOMDE</text>
<rect x="425" y="386.1" width="4.4" height="6.2" fill="#ea8420" stroke="#444" stroke-width="0.9"/>
<text x="432.8" y="392.6" class="lg">SpatialDE</text>
</svg>
</body></html>
